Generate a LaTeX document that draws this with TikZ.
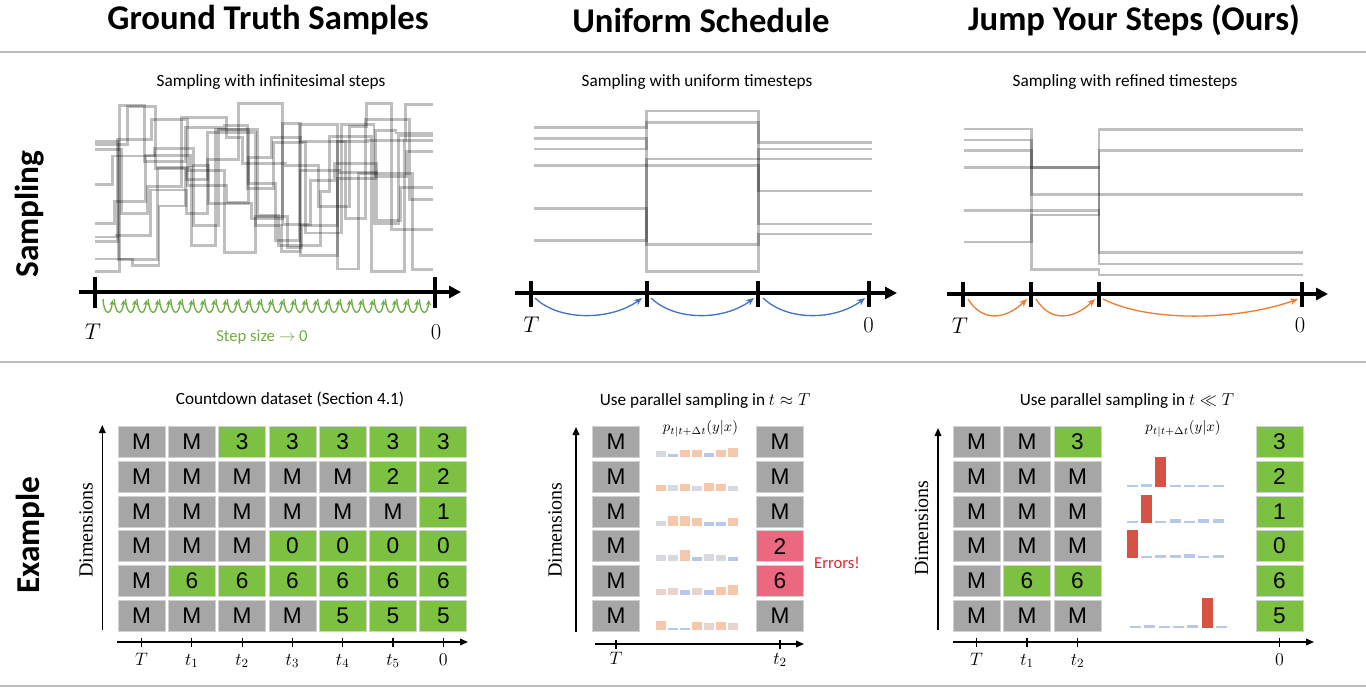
\documentclass[tikz,border=0pt]{standalone}
\usepackage{fix-cm}
\usepackage{fontspec}
\setmainfont{Carlito}
\newfontfamily\sansA{Liberation Sans}
\newfontfamily\serifT{Liberation Serif}
\usetikzlibrary{arrows.meta}
\definecolor{cellg}{RGB}{166,166,166}
\definecolor{cellv}{RGB}{124,193,66}
\definecolor{cellr}{RGB}{236,104,128}
\definecolor{errred}{RGB}{222,40,50}
\definecolor{arrgreen}{RGB}{112,173,71}
\definecolor{arrblue}{RGB}{68,114,196}
\definecolor{arrorange}{RGB}{237,125,49}
\definecolor{barO}{RGB}{245,200,172}
\definecolor{barB}{RGB}{184,200,232}
\definecolor{barY}{RGB}{216,217,222}
\definecolor{barP}{RGB}{232,212,204}
\definecolor{barR}{RGB}{214,82,68}
\definecolor{sepgray}{RGB}{190,190,190}
\begin{document}
\begin{tikzpicture}[x=0.75pt,y=-0.75pt,
  title/.style={font=\fontsize{26}{30}\selectfont\bfseries},
  rowlabel/.style={font=\fontsize{25}{30}\selectfont\bfseries, rotate=90},
  subtitle/.style={font=\fontsize{12.9}{15}\selectfont},
  sepline/.style={draw=sepgray, line width=1.5pt},
  gpath/.style={draw=black, draw opacity=0.25, line width=2.2pt},
  taxis/.style={line width=3pt, -{Triangle[length=9pt,width=9pt]}},
  ttick/.style={line width=3pt},
  tlabel/.style={font=\fontsize{17}{20}\selectfont},
  cell/.style={minimum width=35.25pt, minimum height=23.25pt, inner sep=0pt, draw=white!82!black, line width=0.6pt, font=\sansA\fontsize{17}{20}\selectfont},
  gaxis/.style={line width=1.1pt, -{Triangle[length=6pt,width=5pt]}},
  gtick/.style={line width=0.9pt},
  glabel/.style={font=\fontsize{13.5}{16}\selectfont, anchor=base},
  dimlabel/.style={font=\serifT\fontsize{15}{18}\selectfont, rotate=90},
  greenarc/.style={draw=arrgreen, line width=1pt, -{Stealth[length=4pt,width=4pt]}},
  bluearc/.style={draw=arrblue, line width=1pt, -{Stealth[length=6pt,width=5pt]}},
  orangearc/.style={draw=arrorange, line width=1pt, -{Stealth[length=6pt,width=5pt]}},
  plabel/.style={font=\fontsize{11}{13}\selectfont}
]
\useasboundingbox (0,0) rectangle (1366,689);
\fill[white] (0,0) rectangle (1366,689);

% titles
\node[title] (t1) at (268,20) {Ground Truth Samples};
\node[title] (t2) at (701,20) {Uniform Schedule};
\node[title] (t3) at (1134,20) {Jump Your Steps (Ours)};
\node[rowlabel] (r1) at (30,214) {Sampling};
\node[rowlabel] (r2) at (30,535) {Example};

% separators
\draw[sepline] (0,52) -- (1366,52);
\draw[sepline] (0,362) -- (1366,362);
\draw[sepline] (0,686) -- (1366,686);

% ---------------- Panel 1 top ----------------
\node[subtitle] (s1) at (271,82) {Sampling with infinitesimal steps};
\coordinate (rightedge) at (433,0);
\pgfmathsetseed{2024}
\foreach \p in {1,...,9}{
  \draw[gpath] (95,{103+169*rnd})
    \foreach \i in {1,...,10}{ -| ({95+(\i-0.5)*31+rnd*24},{103+169*rnd}) }
    coordinate (e\p) -- (e\p -| rightedge);
}
\coordinate (a1s) at (79,292);
\coordinate (a1e) at (461,292);
\draw[taxis] (a1s) -- (a1e);
\draw[ttick] (95,277) -- (95,308);
\draw[ttick] (435,277) -- (435,308);
\foreach \k in {0,...,28}{
  \draw[greenarc] ({103+11.3*\k},299) .. controls ({104+11.3*\k},316) and ({111+11.3*\k},316) .. ({112.5+11.3*\k},300);
}
\node[tlabel] (T1) at (93,332) {$T$};
\node[tlabel] (Z1) at (436,332) {$0$};
\node[font=\fontsize{12.5}{14}\selectfont, text=arrgreen] (ss) at (262,337) {Step size $\rightarrow$ 0};

% ---------------- Panel 2 top ----------------
\node[subtitle] (s2) at (697,82) {Sampling with uniform timesteps};
\foreach \a/\b/\c in {127.3/111/142.7, 138.3/244.3/234, 149/122.3/191, 165.3/165.3/224, 208.3/271.7/149, 240.3/159/159}{
  \draw[gpath] (534,\a) -| (646.7,\b) -| (758.3,\c) -- (871.7,\c);
}
\coordinate (a2s) at (515,293);
\coordinate (a2e) at (897,293);
\draw[taxis] (a2s) -- (a2e);
\foreach \x in {531,646.7,758.3,869.3}{ \draw[ttick] (\x,281) -- (\x,307); }
\draw[bluearc] (535,298) .. controls (560,322) and (612,320) .. (642,298);
\draw[bluearc] (651,298) .. controls (676,322) and (725,320) .. (754,298);
\draw[bluearc] (763,298) .. controls (788,322) and (836,320) .. (865,298);
\node[tlabel] (T2) at (531.5,325) {$T$};
\node[tlabel] (Z2) at (868.5,325) {$0$};

% ---------------- Panel 3 top ----------------
\node[subtitle] (s3) at (1125,82) {Sampling with refined timesteps};
\foreach \a/\b/\c in {129/269.3/275, 140/167.3/150.7, 150.7/194.3/194.3, 167.3/167.3/264, 210.3/210.3/252.7, 242/215/129.3}{
  \draw[gpath] (964,\a) -| (1031.5,\b) -| (1099,\c) -- (1302.7,\c);
}
\coordinate (a3s) at (947,294);
\coordinate (a3e) at (1328,294);
\draw[taxis] (a3s) -- (a3e);
\foreach \x in {963,1031,1099,1302}{ \draw[ttick] (\x,282) -- (\x,307); }
\draw[orangearc] (968,299) .. controls (982,322) and (1005,320) .. (1027,299);
\draw[orangearc] (1036,299) .. controls (1050,322) and (1073,320) .. (1095,299);
\draw[orangearc] (1103,299) .. controls (1150,323) and (1240,320) .. (1298,299);
\node[tlabel] (T3) at (960,325.5) {$T$};
\node[tlabel] (Z3) at (1300,325.5) {$0$};

% ---------------- Panel 1 bottom ----------------
\node[subtitle] (s4) at (290,399) {Countdown dataset (Section 4.1)};
\foreach \row [count=\r from 0] in {
  {g/M,g/M,v/3,v/3,v/3,v/3,v/3},
  {g/M,g/M,g/M,g/M,g/M,v/2,v/2},
  {g/M,g/M,g/M,g/M,g/M,g/M,v/1},
  {g/M,g/M,g/M,v/0,v/0,v/0,v/0},
  {g/M,v/6,v/6,v/6,v/6,v/6,v/6},
  {g/M,g/M,g/M,g/M,v/5,v/5,v/5}}{
  \foreach \t/\v [count=\c from 0] in \row {
    \node[cell, fill=cell\t] (A\r\c) at ({141.5+50.3*\c},{442+34.7*\r}) {\v};
  }
}
\coordinate (v1b) at (102.3,629.5);
\coordinate (v1t) at (102.3,425);
\draw[gaxis] (v1b) -- (v1t);
\coordinate (h1s) at (117,642);
\coordinate (h1e) at (468,642);
\draw[gaxis] (h1s) -- (h1e);
\foreach \lab [count=\c from 0] in {T,t_1,t_2,t_3,t_4,t_5,0}{
  \draw[gtick] ({141.5+50.3*\c},637.5) -- ({141.5+50.3*\c},646.5);
  \node[glabel] (L1\c) at ({141.5+50.3*\c},665) {$\lab$};
}
\node[dimlabel] (D1) at (86,530) {Dimensions};

% ---------------- Panel 2 bottom ----------------
\node[subtitle] (s5) at (705,401) {Use parallel sampling in $t \approx T$};
\foreach \t/\v [count=\r from 0] in {g/M,g/M,g/M,r/2,r/6,g/M}{
  \node[cell, fill=cellg] (B\r) at (616,{442+34.7*\r}) {M};
  \node[cell, fill=cell\t] (C\r) at (780,{442+34.7*\r}) {\v};
}
\node[plabel] (P2) at (700.5,429) {$p_{t|t+\Delta t}(y|x)$};
\foreach \row [count=\r from 0] in {
  {Y/5.5,B/3,O/7,O/7,B/4,O/7,O/8.5},
  {O/6,Y/6,O/7,Y/5,O/8,O/7,Y/5},
  {Y/5,O/10,O/10,O/8,B/4,B/4,O/8},
  {Y/6,Y/6,O/11,B/3.5,Y/6.5,Y/6,B/4},
  {P/6,P/7,B/5.5,P/7,B/5.5,O/8.5,O/10},
  {O/9,B/2.5,B/2.5,O/8,P/7,O/8,P/7}}{
  \foreach \cc/\h [count=\k from 0] in \row {
    \path[fill=bar\cc] ({656+12*\k},{456.5+34.7*\r}) rectangle ++(10,{-\h});
  }
}
\node[font=\fontsize{12.5}{14}\selectfont, text=errred] (err) at (837,563) {Errors!};
\coordinate (v2b) at (576,632);
\coordinate (v2t) at (576,427);
\draw[gaxis] (v2b) -- (v2t);
\coordinate (h2s) at (595,644);
\coordinate (h2e) at (804,644);
\draw[gaxis] (h2s) -- (h2e);
\draw[gtick] (616,639.5) -- (616,648.5);
\draw[gtick] (780,639.5) -- (780,648.5);
\node[glabel] (L2a) at (616,664) {$T$};
\node[glabel] (L2b) at (780,664) {$t_2$};
\node[dimlabel] (D2) at (555,530) {Dimensions};

% ---------------- Panel 3 bottom ----------------
\node[subtitle] (s6) at (1127,401) {Use parallel sampling in $t \ll T$};
\foreach \row [count=\r from 0] in {
  {g/M,g/M,v/3,v/3},
  {g/M,g/M,g/M,v/2},
  {g/M,g/M,g/M,v/1},
  {g/M,g/M,g/M,v/0},
  {g/M,v/6,v/6,v/6},
  {g/M,g/M,g/M,v/5}}{
  \foreach \t/\v [count=\c from 0] in \row {
    \pgfmathsetmacro{\cx}{\c<3 ? 976.5+50.5*\c : 1279.5}
    \node[cell, fill=cell\t] (E\r\c) at (\cx,{442+34.7*\r}) {\v};
  }
}
\node[plabel] (P3) at (1183,429) {$p_{t|t+\Delta t}(y|x)$};
\foreach \base/\sx/\row in {
  487/1126.7/{B/2,B/3.5,R/29.7,B/2.5,B/2.5,B/2.5,B/2.5},
  522.7/1126.7/{B/2,R/27.7,B/2,B/3.5,B/2,B/3.5,B/3.5},
  557.5/1126.7/{R/27.3,B/2,B/2.5,B/2.5,B/3.5,B/2,B/3},
  628.3/1130/{B/2,B/3.5,B/2.5,B/2,B/3.5,R/30,B/2}}{
  \foreach \cc/\h [count=\k from 0] in \row {
    \path[fill=bar\cc] ({\sx+14.3*\k},\base) rectangle ++(11,{-\h});
  }
}
\coordinate (v3b) at (938,629.5);
\coordinate (v3t) at (938,428);
\draw[gaxis] (v3b) -- (v3t);
\coordinate (h3s) at (953,642);
\coordinate (h3e) at (1314,642);
\draw[gaxis] (h3s) -- (h3e);
\foreach \x/\lab [count=\c] in {976.5/T,1027/t_1,1077.5/t_2,1279.5/0}{
  \draw[gtick] (\x,637.5) -- (\x,646.5);
  \node[glabel] (L3\c) at (\x,665) {$\lab$};
}
\node[dimlabel] (D3) at (921.7,528) {Dimensions};
\end{tikzpicture}
\end{document}
